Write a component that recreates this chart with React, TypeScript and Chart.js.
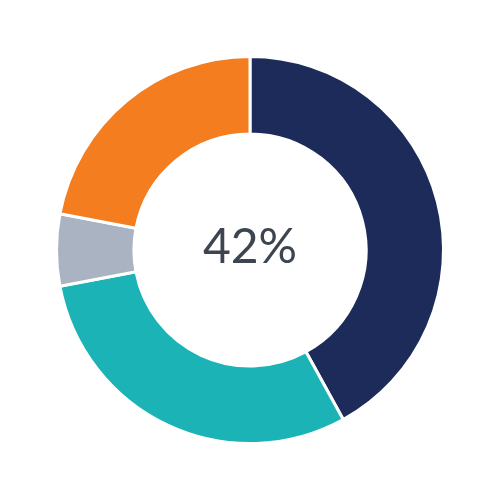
import React, { useEffect, useRef } from "react";
import Chart from "chart.js/auto";

const labels = ["Navy", "Teal", "Gray", "Orange"];
const values = [42, 30, 6, 22];
const colors = ["#1c2b59", "#1bb3b6", "#a9b3c1", "#f47d20"];
const centerLabel = "42%";

const App: React.FC = () => {
  const chartRef = useRef<HTMLCanvasElement | null>(null);
  const chartInstance = useRef<Chart | null>(null);

  useEffect(() => {
    document.body.style.margin = "0";
    if (chartRef.current) {
      const ctx = chartRef.current.getContext("2d");
      if (ctx) {
        chartInstance.current = new Chart(ctx, {
          type: "doughnut",
          data: {
            labels: labels,
            datasets: [
              {
                data: values,
                backgroundColor: colors,
                borderColor: "#ffffff",
                borderWidth: 3,
                hoverOffset: 0,
              },
            ],
          },
          options: {
            animation: false,
            responsive: true,
            maintainAspectRatio: false,
            cutout: "60%",
            layout: { padding: 55 },
            plugins: {
              legend: { display: false },
              tooltip: { enabled: false },
            },
          },
        });
      }
    }

    return () => {
      if (chartInstance.current) {
        chartInstance.current.destroy();
        chartInstance.current = null;
      }
    };
  }, []);

  return (
    <div style={{ position: "relative", width: 500, height: 500, background: "#fff" }}>
      <canvas ref={chartRef} />
      <div
        style={{
          position: "absolute",
          left: 0,
          top: -6,
          width: 500,
          height: 500,
          display: "flex",
          alignItems: "center",
          justifyContent: "center",
          fontFamily: "Lato, 'Open Sans', sans-serif",
          fontWeight: 400,
          fontSize: 48,
          color: "#3d4550",
          pointerEvents: "none",
        }}
      >
        {centerLabel}
      </div>
    </div>
  );
};

export default App;
